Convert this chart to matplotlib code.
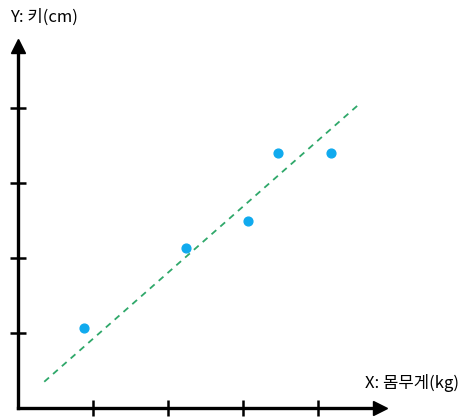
import matplotlib
matplotlib.use("Agg")
import numpy as np
from matplotlib import pyplot as plt

plt.rcParams['font.family'] = ['Noto Sans CJK KR', 'DejaVu Sans']

# weight / height samples (one tick = 1 unit)
weight = [0.88, 2.24, 3.07, 3.47, 4.17]
height = [1.07, 2.13, 2.49, 3.40, 3.40]

# regression line ends
line_x = [0.35, 4.57]
line_y = [0.35, 4.07]

ticks = [1, 2, 3, 4]
x_label = "X: 몸무게(kg)"
y_label = "Y: 키(cm)"

fig = plt.figure(figsize=(4.74, 4.2), dpi=100)
ax = fig.add_axes([0, 0, 1, 1])
ax.set_xlim(-18 / 75, 456 / 75)
ax.set_ylim(-12 / 75, 408 / 75)

# axes with arrow heads
for side in ['top', 'right']:
    ax.spines[side].set_visible(False)
ax.spines['left'].set_position(('data', 0))
ax.spines['bottom'].set_position(('data', 0))
ax.spines['left'].set_bounds(0, 4.8)
ax.spines['bottom'].set_bounds(0, 4.8)
for side in ['left', 'bottom']:
    ax.spines[side].set_linewidth(2.4)
ax.plot(4.83, 0, marker='>', color='black', markersize=10, clip_on=False)
ax.plot(0, 4.83, marker='^', color='black', markersize=10, clip_on=False)

ax.set_xticks(ticks)
ax.set_yticks(ticks)
ax.set_xticklabels([])
ax.set_yticklabels([])
ax.tick_params(direction='inout', length=12, width=1.8, color='black')

ax.plot(line_x, line_y, linestyle=(0, (3.5, 3)), color='#2fa86a', linewidth=1.3)
ax.scatter(weight, height, s=40, color='#10aaee', zorder=3)

fig.text(10 / 474, 1 - 17 / 420, y_label, fontsize=12, va='center', ha='left')
fig.text(365 / 474, 1 - 383 / 420, x_label, fontsize=12, va='center', ha='left')

fig.savefig('out.png', dpi=100)
